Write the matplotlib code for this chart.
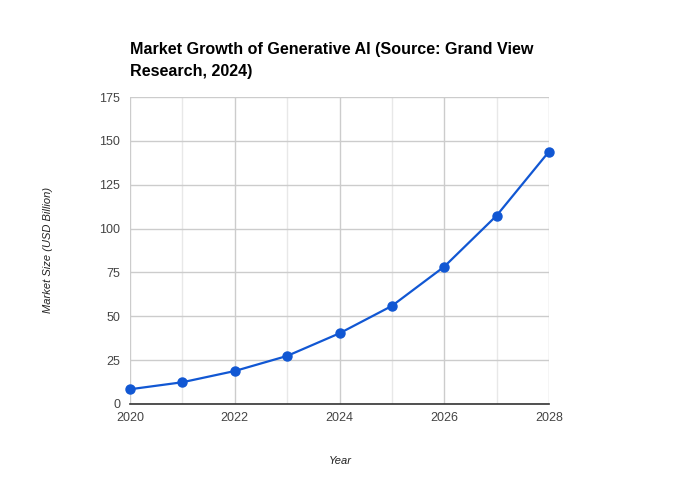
import matplotlib
matplotlib.use("Agg")
import matplotlib.pyplot as plt

years = [2020, 2021, 2022, 2023, 2024, 2025, 2026, 2027, 2028]
market_size = [8.4, 12.4, 18.8, 27.4, 40.3, 55.9, 78.3, 107.4, 143.9]
x_ticks = [2020, 2022, 2024, 2026, 2028]
y_ticks = [0, 25, 50, 75, 100, 125, 150, 175]
title_lines = ['Market Growth of Generative AI (Source: Grand View', 'Research, 2024)']

plt.rcParams['font.family'] = ['Liberation Sans', 'DejaVu Sans']

fig = plt.figure(figsize=(6.8, 5), dpi=100)
ax = fig.add_axes([130/680, 1-404/500, 419/680, 307/500])

ax.plot(years, market_size, color='#1157d3', lw=1.6, marker='o', ms=6.5, zorder=3, clip_on=False)

ax.set_xlim(2020, 2028)
ax.set_ylim(0, 175)
ax.set_xticks(x_ticks)
ax.set_xticks(years, minor=True)
ax.set_yticks(y_ticks)
ax.grid(True, which='major', color='#cccccc', lw=1)
ax.grid(True, which='minor', axis='x', color='#e8e8e8', lw=1)
ax.set_axisbelow(True)
for s in ['top', 'right', 'left']:
    ax.spines[s].set_visible(False)
ax.spines['bottom'].set_color('#333333')
ax.spines['bottom'].set_linewidth(1.2)
ax.tick_params(which='both', length=0, labelsize=9, labelcolor='#444444')
ax.tick_params(axis='y', pad=7)
ax.tick_params(axis='x', pad=6)

for i, line in enumerate(title_lines):
    fig.text(130/680, 1-(54+22*i)/500, line, fontsize=11.6, fontweight='bold',
             color='#000000', ha='left', va='baseline')

fig.text(48/680, 1-250/500, 'Market Size (USD Billion)', rotation=90, fontsize=8, style='italic',
         color='#222222', ha='center', va='center')
fig.text(340/680, 1-461/500, 'Year', fontsize=8, style='italic', color='#222222', ha='center', va='center')

fig.savefig('out.png', dpi=100)
